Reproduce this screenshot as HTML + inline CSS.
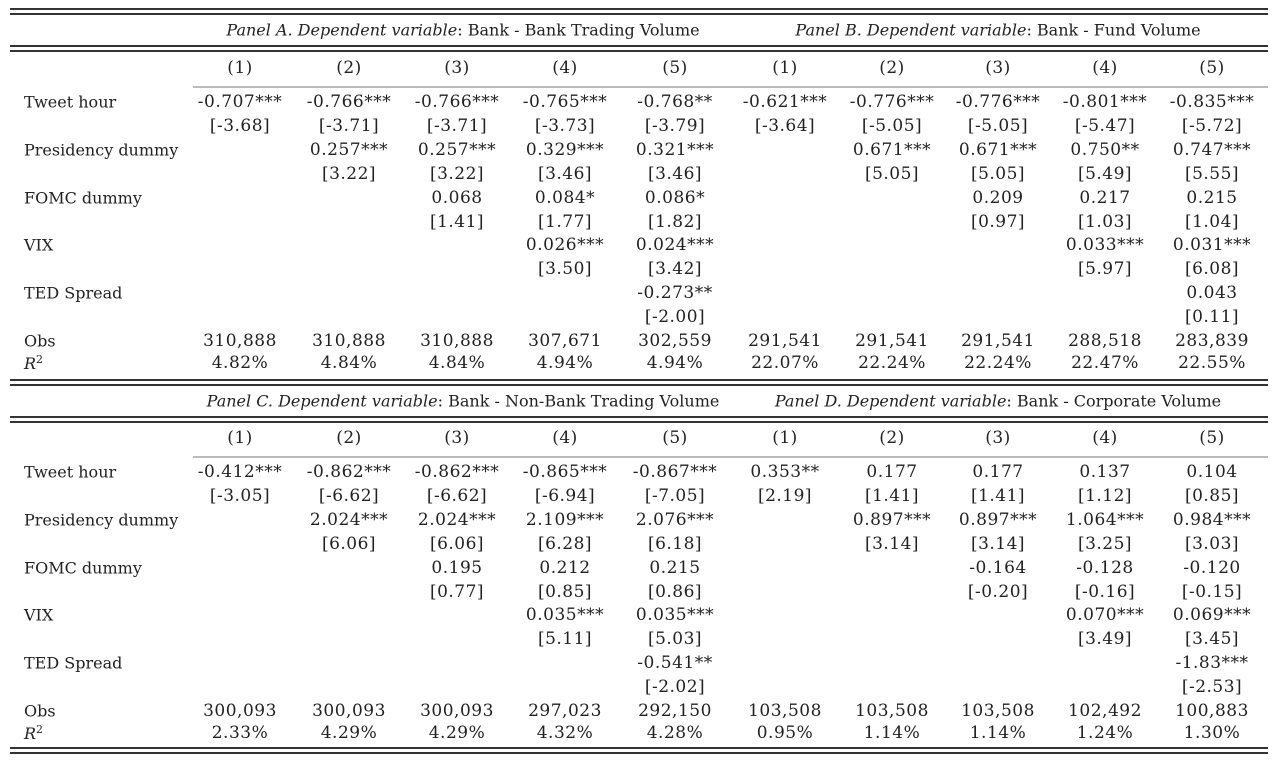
<!DOCTYPE html>
<html><head><meta charset="utf-8"><style>
body{margin:0;width:1280px;height:774px;background:#fff;position:relative;overflow:hidden;font-family:"DejaVu Serif","Liberation Serif",serif;font-size:16px;color:#222}
.c{position:absolute;transform:translate(-50%,-50%);white-space:nowrap;font-size:17px;letter-spacing:.5px}
.h{position:absolute;transform:translate(-50%,-50%);white-space:nowrap}
.l{position:absolute;transform:translateY(-50%);left:24px;white-space:nowrap}
.r{position:absolute;left:10px;width:1258px;height:1.5px;background:#333}
.g{position:absolute;left:193px;width:1075px;height:2px;background:#bbb}
i{font-style:italic}
</style></head><body>
<div class="r" style="top:8px"></div><div class="r" style="top:13px"></div>
<div class="r" style="top:45px"></div><div class="r" style="top:50px"></div>
<div class="g" style="top:86px"></div>
<div class="r" style="top:379px"></div><div class="r" style="top:384px"></div>
<div class="r" style="top:416px"></div><div class="r" style="top:421px"></div>
<div class="g" style="top:456px"></div>
<div class="r" style="top:747px"></div><div class="r" style="top:752px"></div>

<div class="h" style="left:463px;top:30px"><i>Panel A. Dependent variable</i>: Bank - Bank Trading Volume</div>
<div class="h" style="left:998px;top:30px"><i>Panel B. Dependent variable</i>: Bank - Fund Volume</div>
<div class="h" style="left:463px;top:401px"><i>Panel C. Dependent variable</i>: Bank - Non-Bank Trading Volume</div>
<div class="h" style="left:998px;top:401px"><i>Panel D. Dependent variable</i>: Bank - Corporate Volume</div>

<div class="c" style="left:240px;top:68px">(1)</div><div class="c" style="left:349px;top:68px">(2)</div><div class="c" style="left:457px;top:68px">(3)</div><div class="c" style="left:565px;top:68px">(4)</div><div class="c" style="left:675px;top:68px">(5)</div>
<div class="c" style="left:785px;top:68px">(1)</div><div class="c" style="left:892px;top:68px">(2)</div><div class="c" style="left:998px;top:68px">(3)</div><div class="c" style="left:1105px;top:68px">(4)</div><div class="c" style="left:1212px;top:68px">(5)</div>
<div class="c" style="left:240px;top:438px">(1)</div><div class="c" style="left:349px;top:438px">(2)</div><div class="c" style="left:457px;top:438px">(3)</div><div class="c" style="left:565px;top:438px">(4)</div><div class="c" style="left:675px;top:438px">(5)</div>
<div class="c" style="left:785px;top:438px">(1)</div><div class="c" style="left:892px;top:438px">(2)</div><div class="c" style="left:998px;top:438px">(3)</div><div class="c" style="left:1105px;top:438px">(4)</div><div class="c" style="left:1212px;top:438px">(5)</div>

<div class="l" style="top:102px">Tweet hour</div>
<div class="l" style="top:150px">Presidency dummy</div>
<div class="l" style="top:198px">FOMC dummy</div>
<div class="l" style="top:245px">VIX</div>
<div class="l" style="top:293px">TED Spread</div>
<div class="l" style="top:341px">Obs</div>
<div class="l" style="top:363px"><i>R</i><sup style="font-size:11px">2</sup></div>
<div class="l" style="top:472px">Tweet hour</div>
<div class="l" style="top:520px">Presidency dummy</div>
<div class="l" style="top:568px">FOMC dummy</div>
<div class="l" style="top:615px">VIX</div>
<div class="l" style="top:663px">TED Spread</div>
<div class="l" style="top:711px">Obs</div>
<div class="l" style="top:733px"><i>R</i><sup style="font-size:11px">2</sup></div>

<div class="c" style="left:240px;top:102px">-0.707***</div><div class="c" style="left:349px;top:102px">-0.766***</div><div class="c" style="left:457px;top:102px">-0.766***</div><div class="c" style="left:565px;top:102px">-0.765***</div><div class="c" style="left:675px;top:102px">-0.768**</div>
<div class="c" style="left:240px;top:126px">[-3.68]</div><div class="c" style="left:349px;top:126px">[-3.71]</div><div class="c" style="left:457px;top:126px">[-3.71]</div><div class="c" style="left:565px;top:126px">[-3.73]</div><div class="c" style="left:675px;top:126px">[-3.79]</div>
<div class="c" style="left:349px;top:150px">0.257***</div><div class="c" style="left:457px;top:150px">0.257***</div><div class="c" style="left:565px;top:150px">0.329***</div><div class="c" style="left:675px;top:150px">0.321***</div>
<div class="c" style="left:349px;top:174px">[3.22]</div><div class="c" style="left:457px;top:174px">[3.22]</div><div class="c" style="left:565px;top:174px">[3.46]</div><div class="c" style="left:675px;top:174px">[3.46]</div>
<div class="c" style="left:457px;top:198px">0.068</div><div class="c" style="left:565px;top:198px">0.084*</div><div class="c" style="left:675px;top:198px">0.086*</div>
<div class="c" style="left:457px;top:222px">[1.41]</div><div class="c" style="left:565px;top:222px">[1.77]</div><div class="c" style="left:675px;top:222px">[1.82]</div>
<div class="c" style="left:565px;top:245px">0.026***</div><div class="c" style="left:675px;top:245px">0.024***</div>
<div class="c" style="left:565px;top:269px">[3.50]</div><div class="c" style="left:675px;top:269px">[3.42]</div>
<div class="c" style="left:675px;top:293px">-0.273**</div>
<div class="c" style="left:675px;top:317px">[-2.00]</div>
<div class="c" style="left:240px;top:341px">310,888</div><div class="c" style="left:349px;top:341px">310,888</div><div class="c" style="left:457px;top:341px">310,888</div><div class="c" style="left:565px;top:341px">307,671</div><div class="c" style="left:675px;top:341px">302,559</div>
<div class="c" style="left:240px;top:363px">4.82%</div><div class="c" style="left:349px;top:363px">4.84%</div><div class="c" style="left:457px;top:363px">4.84%</div><div class="c" style="left:565px;top:363px">4.94%</div><div class="c" style="left:675px;top:363px">4.94%</div>

<div class="c" style="left:785px;top:102px">-0.621***</div><div class="c" style="left:892px;top:102px">-0.776***</div><div class="c" style="left:998px;top:102px">-0.776***</div><div class="c" style="left:1105px;top:102px">-0.801***</div><div class="c" style="left:1212px;top:102px">-0.835***</div>
<div class="c" style="left:785px;top:126px">[-3.64]</div><div class="c" style="left:892px;top:126px">[-5.05]</div><div class="c" style="left:998px;top:126px">[-5.05]</div><div class="c" style="left:1105px;top:126px">[-5.47]</div><div class="c" style="left:1212px;top:126px">[-5.72]</div>
<div class="c" style="left:892px;top:150px">0.671***</div><div class="c" style="left:998px;top:150px">0.671***</div><div class="c" style="left:1105px;top:150px">0.750**</div><div class="c" style="left:1212px;top:150px">0.747***</div>
<div class="c" style="left:892px;top:174px">[5.05]</div><div class="c" style="left:998px;top:174px">[5.05]</div><div class="c" style="left:1105px;top:174px">[5.49]</div><div class="c" style="left:1212px;top:174px">[5.55]</div>
<div class="c" style="left:998px;top:198px">0.209</div><div class="c" style="left:1105px;top:198px">0.217</div><div class="c" style="left:1212px;top:198px">0.215</div>
<div class="c" style="left:998px;top:222px">[0.97]</div><div class="c" style="left:1105px;top:222px">[1.03]</div><div class="c" style="left:1212px;top:222px">[1.04]</div>
<div class="c" style="left:1105px;top:245px">0.033***</div><div class="c" style="left:1212px;top:245px">0.031***</div>
<div class="c" style="left:1105px;top:269px">[5.97]</div><div class="c" style="left:1212px;top:269px">[6.08]</div>
<div class="c" style="left:1212px;top:293px">0.043</div>
<div class="c" style="left:1212px;top:317px">[0.11]</div>
<div class="c" style="left:785px;top:341px">291,541</div><div class="c" style="left:892px;top:341px">291,541</div><div class="c" style="left:998px;top:341px">291,541</div><div class="c" style="left:1105px;top:341px">288,518</div><div class="c" style="left:1212px;top:341px">283,839</div>
<div class="c" style="left:785px;top:363px">22.07%</div><div class="c" style="left:892px;top:363px">22.24%</div><div class="c" style="left:998px;top:363px">22.24%</div><div class="c" style="left:1105px;top:363px">22.47%</div><div class="c" style="left:1212px;top:363px">22.55%</div>

<div class="c" style="left:240px;top:472px">-0.412***</div><div class="c" style="left:349px;top:472px">-0.862***</div><div class="c" style="left:457px;top:472px">-0.862***</div><div class="c" style="left:565px;top:472px">-0.865***</div><div class="c" style="left:675px;top:472px">-0.867***</div>
<div class="c" style="left:240px;top:496px">[-3.05]</div><div class="c" style="left:349px;top:496px">[-6.62]</div><div class="c" style="left:457px;top:496px">[-6.62]</div><div class="c" style="left:565px;top:496px">[-6.94]</div><div class="c" style="left:675px;top:496px">[-7.05]</div>
<div class="c" style="left:349px;top:520px">2.024***</div><div class="c" style="left:457px;top:520px">2.024***</div><div class="c" style="left:565px;top:520px">2.109***</div><div class="c" style="left:675px;top:520px">2.076***</div>
<div class="c" style="left:349px;top:544px">[6.06]</div><div class="c" style="left:457px;top:544px">[6.06]</div><div class="c" style="left:565px;top:544px">[6.28]</div><div class="c" style="left:675px;top:544px">[6.18]</div>
<div class="c" style="left:457px;top:568px">0.195</div><div class="c" style="left:565px;top:568px">0.212</div><div class="c" style="left:675px;top:568px">0.215</div>
<div class="c" style="left:457px;top:592px">[0.77]</div><div class="c" style="left:565px;top:592px">[0.85]</div><div class="c" style="left:675px;top:592px">[0.86]</div>
<div class="c" style="left:565px;top:615px">0.035***</div><div class="c" style="left:675px;top:615px">0.035***</div>
<div class="c" style="left:565px;top:639px">[5.11]</div><div class="c" style="left:675px;top:639px">[5.03]</div>
<div class="c" style="left:675px;top:663px">-0.541**</div>
<div class="c" style="left:675px;top:687px">[-2.02]</div>
<div class="c" style="left:240px;top:711px">300,093</div><div class="c" style="left:349px;top:711px">300,093</div><div class="c" style="left:457px;top:711px">300,093</div><div class="c" style="left:565px;top:711px">297,023</div><div class="c" style="left:675px;top:711px">292,150</div>
<div class="c" style="left:240px;top:733px">2.33%</div><div class="c" style="left:349px;top:733px">4.29%</div><div class="c" style="left:457px;top:733px">4.29%</div><div class="c" style="left:565px;top:733px">4.32%</div><div class="c" style="left:675px;top:733px">4.28%</div>

<div class="c" style="left:785px;top:472px">0.353**</div><div class="c" style="left:892px;top:472px">0.177</div><div class="c" style="left:998px;top:472px">0.177</div><div class="c" style="left:1105px;top:472px">0.137</div><div class="c" style="left:1212px;top:472px">0.104</div>
<div class="c" style="left:785px;top:496px">[2.19]</div><div class="c" style="left:892px;top:496px">[1.41]</div><div class="c" style="left:998px;top:496px">[1.41]</div><div class="c" style="left:1105px;top:496px">[1.12]</div><div class="c" style="left:1212px;top:496px">[0.85]</div>
<div class="c" style="left:892px;top:520px">0.897***</div><div class="c" style="left:998px;top:520px">0.897***</div><div class="c" style="left:1105px;top:520px">1.064***</div><div class="c" style="left:1212px;top:520px">0.984***</div>
<div class="c" style="left:892px;top:544px">[3.14]</div><div class="c" style="left:998px;top:544px">[3.14]</div><div class="c" style="left:1105px;top:544px">[3.25]</div><div class="c" style="left:1212px;top:544px">[3.03]</div>
<div class="c" style="left:998px;top:568px">-0.164</div><div class="c" style="left:1105px;top:568px">-0.128</div><div class="c" style="left:1212px;top:568px">-0.120</div>
<div class="c" style="left:998px;top:592px">[-0.20]</div><div class="c" style="left:1105px;top:592px">[-0.16]</div><div class="c" style="left:1212px;top:592px">[-0.15]</div>
<div class="c" style="left:1105px;top:615px">0.070***</div><div class="c" style="left:1212px;top:615px">0.069***</div>
<div class="c" style="left:1105px;top:639px">[3.49]</div><div class="c" style="left:1212px;top:639px">[3.45]</div>
<div class="c" style="left:1212px;top:663px">-1.83***</div>
<div class="c" style="left:1212px;top:687px">[-2.53]</div>
<div class="c" style="left:785px;top:711px">103,508</div><div class="c" style="left:892px;top:711px">103,508</div><div class="c" style="left:998px;top:711px">103,508</div><div class="c" style="left:1105px;top:711px">102,492</div><div class="c" style="left:1212px;top:711px">100,883</div>
<div class="c" style="left:785px;top:733px">0.95%</div><div class="c" style="left:892px;top:733px">1.14%</div><div class="c" style="left:998px;top:733px">1.14%</div><div class="c" style="left:1105px;top:733px">1.24%</div><div class="c" style="left:1212px;top:733px">1.30%</div>
</body></html>
